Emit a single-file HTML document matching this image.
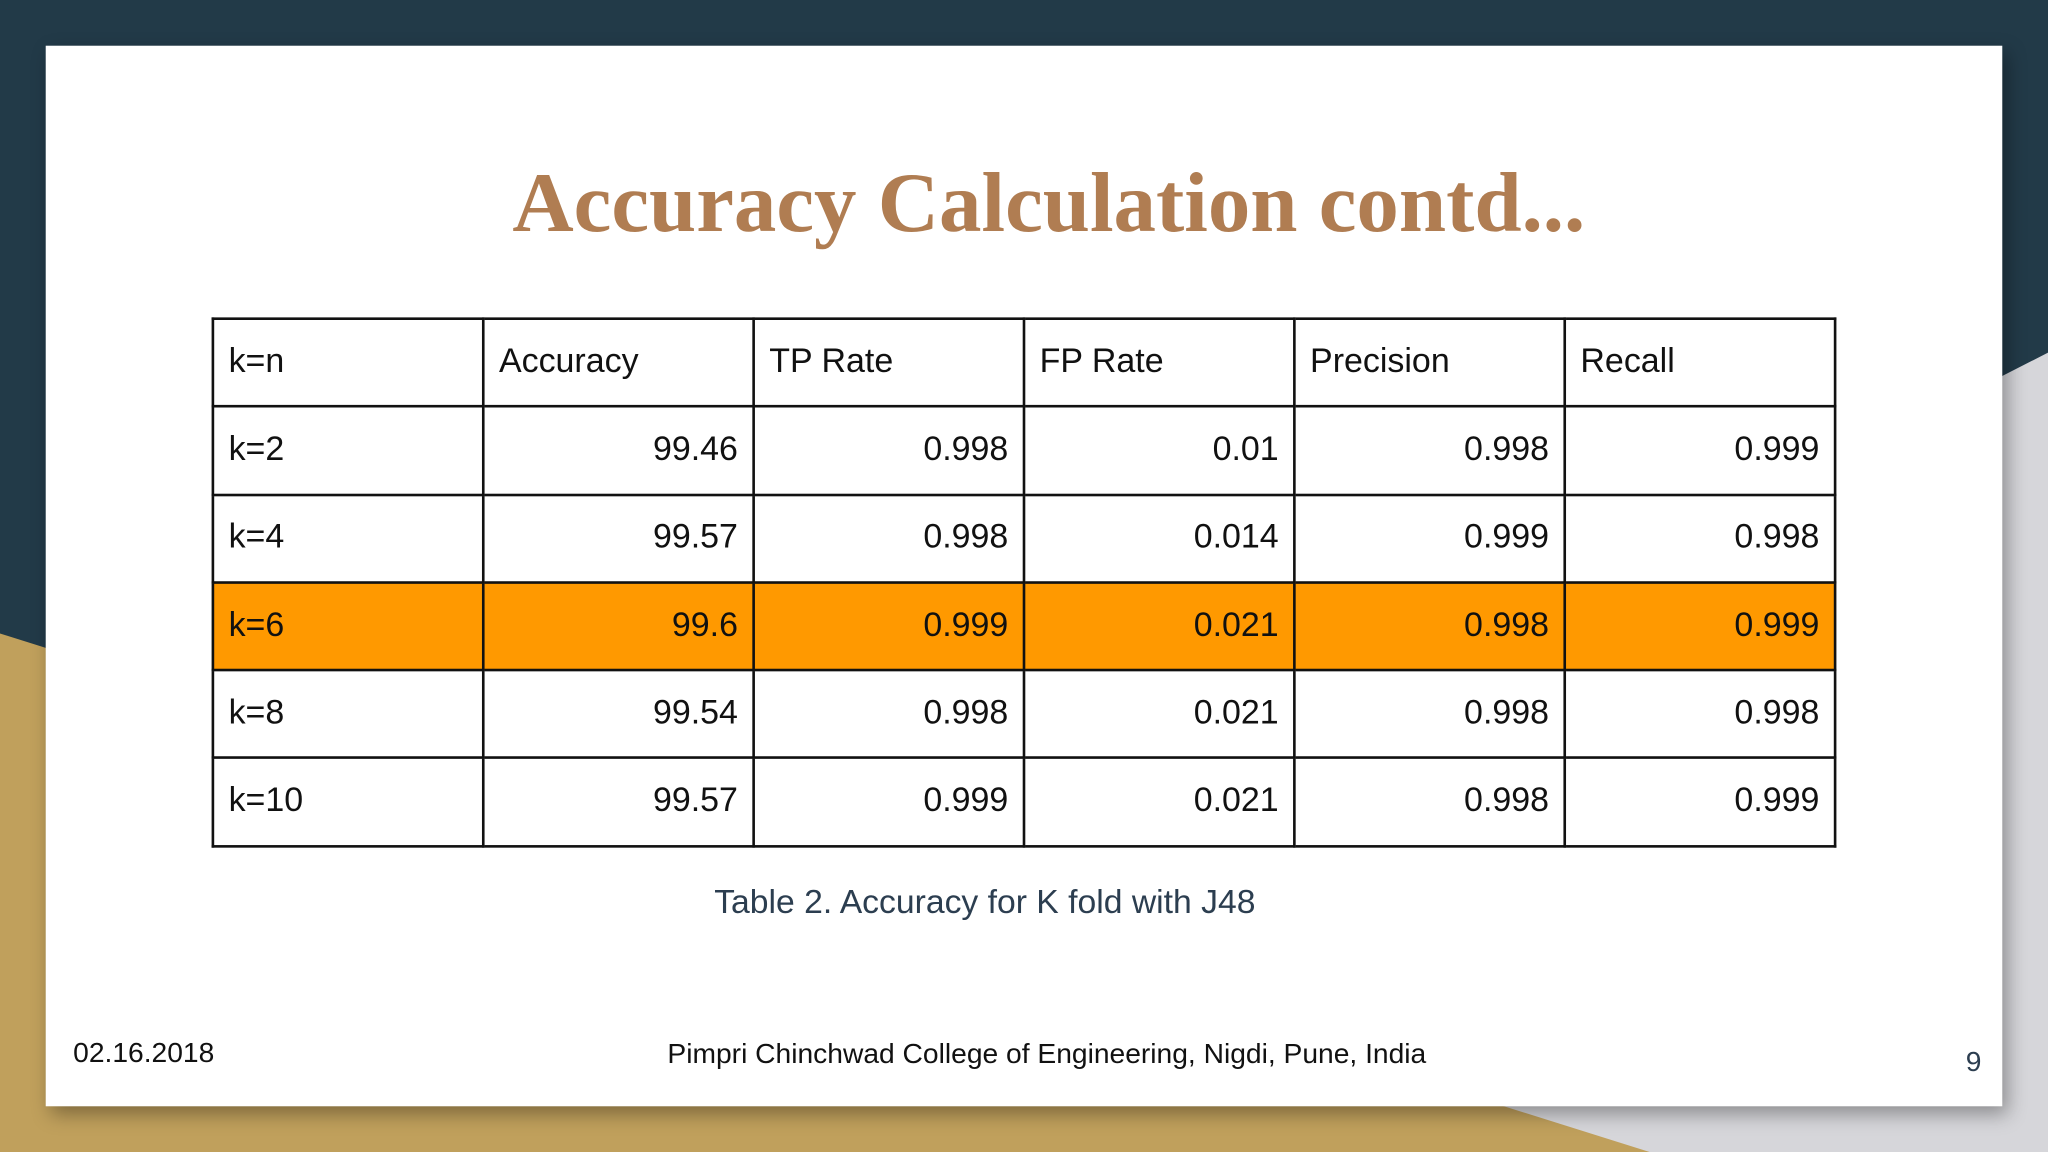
<!DOCTYPE html>
<html><head><meta charset="utf-8"><style>
html,body{margin:0;padding:0;width:2048px;height:1152px;overflow:hidden;background:#d6d6da}
#stage{position:absolute;left:0;top:0;width:1568px;height:882px;overflow:hidden;transform:scale(1.306122);transform-origin:0 0;font-family:"Liberation Sans",Arial,sans-serif}
#slide{position:absolute;left:35px;top:35px;width:1498px;height:812px;background:#fff;box-shadow:4px 6px 14px rgba(0,0,0,0.35)}
.title{position:absolute;left:0;width:1606px;top:119px;text-align:center;font-family:"Liberation Serif",serif;font-weight:bold;font-size:65px;color:#b07d52}
table{position:absolute;left:162px;top:243px;border-collapse:collapse}
td{border:2px solid #111;width:207px;height:67.3px;box-sizing:border-box;padding:0 11px 3px 11px;font-size:26px;color:#111}
td.n{text-align:right}
tr.hl td{background:#ff9900}
.cap{position:absolute;left:754px;top:677px;transform:translateX(-50%);font-size:25.8px;color:#2c3e50;white-space:nowrap}
.foot{position:absolute;font-size:21.6px;color:#111;white-space:nowrap}
</style></head><body>
<div id="stage">
<svg width="1568" height="882" style="position:absolute;left:0;top:0">
<rect width="1568" height="882" fill="#d6d6da"/>
<polygon points="0,0 1568,0 1568,270 0,1070" fill="#223a48"/>
<polygon points="0,485 1263,882 0,882" fill="#c0a05c"/>
</svg>
<div id="slide"></div>
<div class="title">Accuracy Calculation contd...</div>
<table>
<tr><td>k=n</td><td>Accuracy</td><td>TP Rate</td><td>FP Rate</td><td>Precision</td><td>Recall</td></tr>
<tr><td>k=2</td><td class="n">99.46</td><td class="n">0.998</td><td class="n">0.01</td><td class="n">0.998</td><td class="n">0.999</td></tr>
<tr><td>k=4</td><td class="n">99.57</td><td class="n">0.998</td><td class="n">0.014</td><td class="n">0.999</td><td class="n">0.998</td></tr>
<tr class="hl"><td>k=6</td><td class="n">99.6</td><td class="n">0.999</td><td class="n">0.021</td><td class="n">0.998</td><td class="n">0.999</td></tr>
<tr><td>k=8</td><td class="n">99.54</td><td class="n">0.998</td><td class="n">0.021</td><td class="n">0.998</td><td class="n">0.998</td></tr>
<tr><td>k=10</td><td class="n">99.57</td><td class="n">0.999</td><td class="n">0.021</td><td class="n">0.998</td><td class="n">0.999</td></tr>
</table>
<div class="cap">Table 2. Accuracy for K fold with J48</div>
<div class="foot" style="left:56px;top:793px">02.16.2018</div>
<div class="foot" style="left:511px;top:794px">Pimpri Chinchwad College of Engineering, Nigdi, Pune, India</div>
<div class="foot" style="left:1505px;top:800px;color:#2c3e50">9</div>
</div>
</body></html>
